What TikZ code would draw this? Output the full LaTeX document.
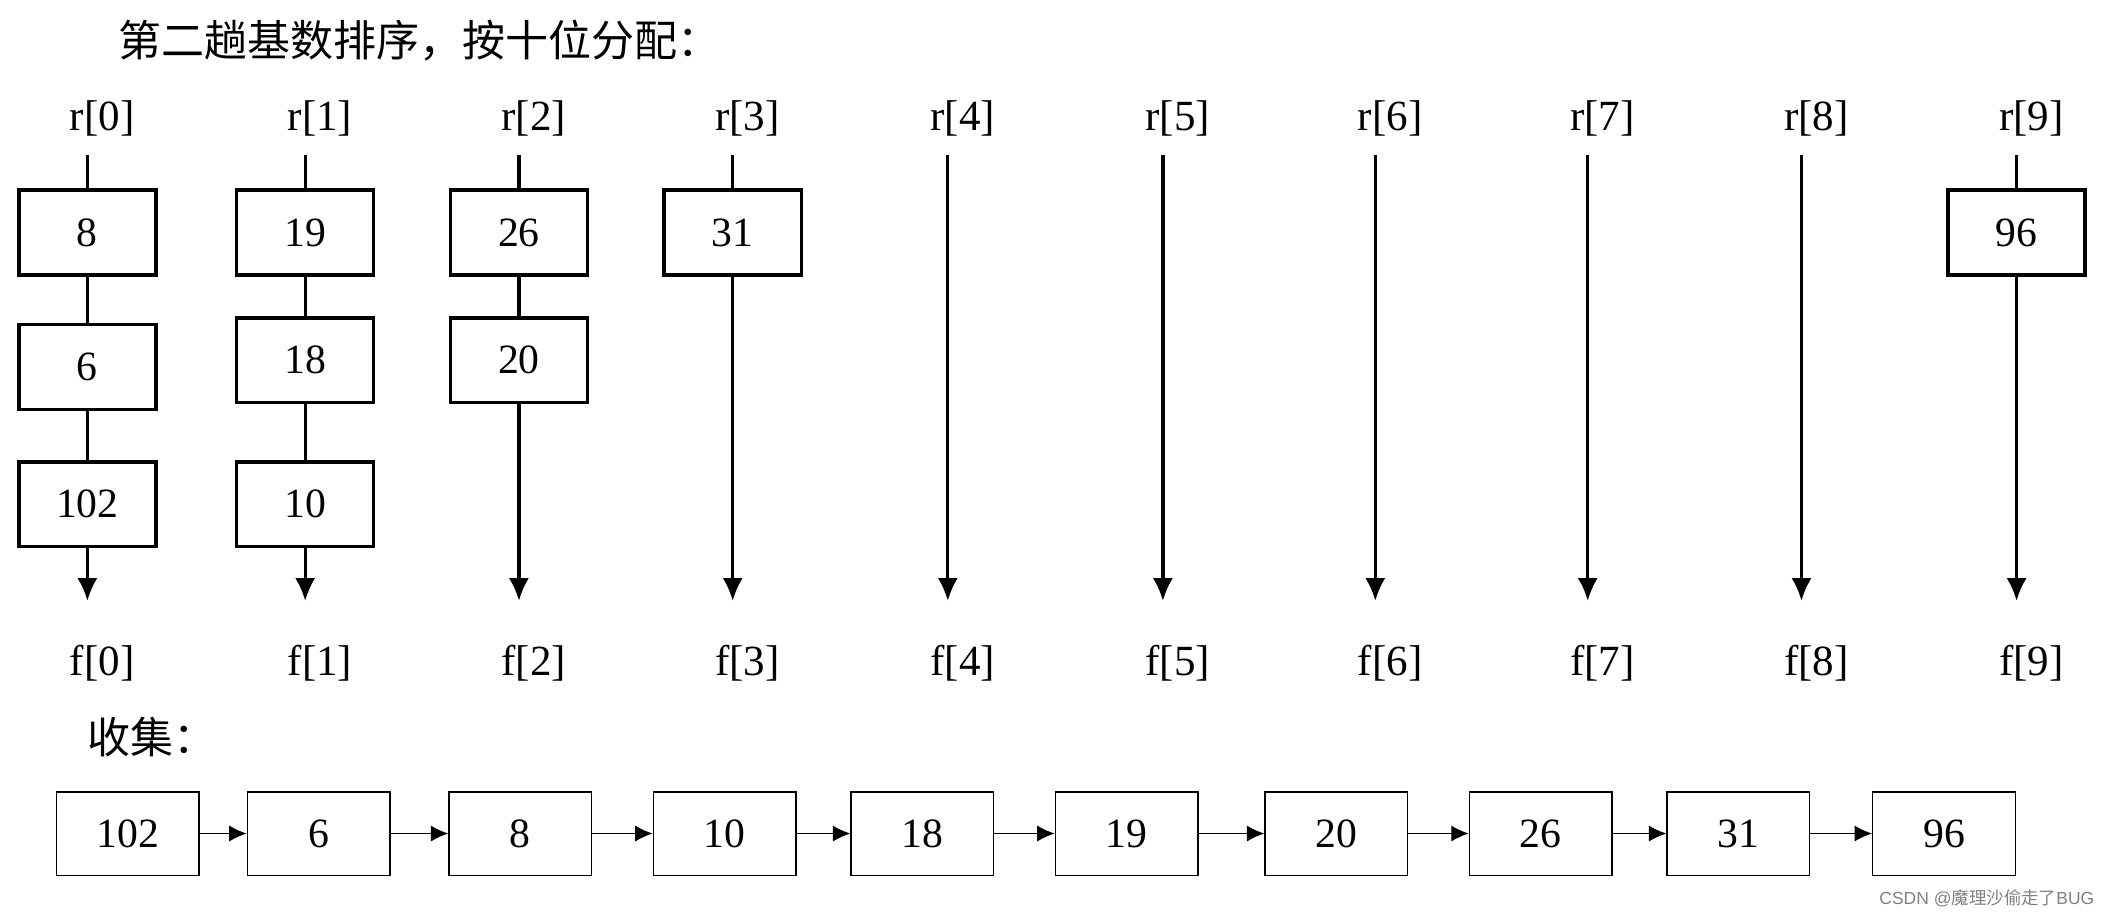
\documentclass[tikz,border=0pt]{standalone}
\usepackage{fontspec}
\setmainfont{Liberation Serif}
\newfontfamily\cjk{Noto Sans CJK SC}
\newfontfamily\wm{Liberation Sans}
\usetikzlibrary{arrows.meta}
\begin{document}
\begin{tikzpicture}[x=1pt,y=-1pt,
  lab/.style={font=\fontsize{32}{32}\selectfont, inner sep=0pt},
  bx/.style={draw, line width=2.6pt, minimum width=102pt, minimum height=63pt, font=\fontsize{31}{31}\selectfont, inner sep=0pt},
  cb/.style={draw, line width=1pt, minimum width=106pt, minimum height=62pt, font=\fontsize{31}{31}\selectfont, inner sep=0pt},
  ln/.style={line width=2.4pt},
  ar/.style={line width=2.4pt, -{Latex[length=17pt,width=15pt]}},
  ca/.style={line width=1pt, -{Latex[length=13pt,width=12pt]}}]
\useasboundingbox (0,0) rectangle (1568,684);
\node[lab, anchor=west] (title) at (88,30) {\cjk 第二趟基数排序，按十位分配：};
\foreach \i/\x in {0/65,1/227,2/386,3/545,4/705,5/865,6/1023,7/1181,8/1340,9/1500}{
  \node[lab] (r\i) at (\x+11,88) {r[\i]};
  \node[lab] (f\i) at (\x+11,493) {f[\i]};
  \coordinate (t\i) at (\x,115);
  \coordinate (e\i) at (\x,447);
}
% column 0
\node[bx] (a0) at (65,173) {8};
\node[bx] (a1) at (65,273) {6};
\node[bx] (a2) at (65,375) {102};
\draw[ln] (t0) -- (a0); \draw[ln] (a0) -- (a1); \draw[ln] (a1) -- (a2); \draw[ar] (a2) -- (e0);
% column 1
\node[bx] (b0) at (227,173) {19};
\node[bx] (b1) at (227,268) {18};
\node[bx] (b2) at (227,375) {10};
\draw[ln] (t1) -- (b0); \draw[ln] (b0) -- (b1); \draw[ln] (b1) -- (b2); \draw[ar] (b2) -- (e1);
% column 2
\node[bx] (c0) at (386,173) {26};
\node[bx] (c1) at (386,268) {20};
\draw[ln] (t2) -- (c0); \draw[ln] (c0) -- (c1); \draw[ar] (c1) -- (e2);
% column 3
\node[bx] (d0) at (545,173) {31};
\draw[ln] (t3) -- (d0); \draw[ar] (d0) -- (e3);
% column 9
\node[bx] (g0) at (1500,173) {96};
\draw[ln] (t9) -- (g0); \draw[ar] (g0) -- (e9);
\foreach \i in {4,5,6,7,8}{ \draw[ar] (t\i) -- (e\i); }
% collect
\node[lab, anchor=west] (col) at (65,548) {\cjk 收集：};
\foreach \n/\x/\v in {1/95/102,2/237/6,3/387/8,4/539/10,5/686/18,6/838/19,7/994/20,8/1146/26,9/1293/31,10/1446/96}{
  \node[cb] (k\n) at (\x,620) {\v};
}
\foreach \a/\b in {1/2,2/3,3/4,4/5,5/6,6/7,7/8,8/9,9/10}{ \draw[ca] (k\a) -- (k\b); }
\node[anchor=east, inner sep=0pt, text=gray, font=\fontsize{13}{13}\selectfont] (wmk) at (1558,668) {\wm CSDN @\cjk 魔理沙偷走了\wm BUG};
\end{tikzpicture}
\end{document}
